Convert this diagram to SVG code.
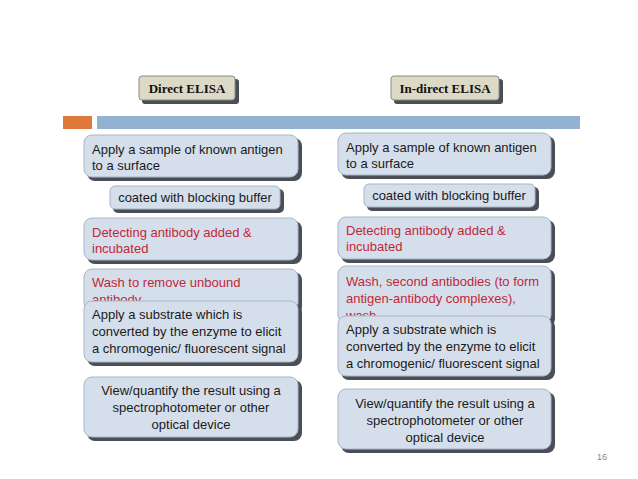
<svg xmlns="http://www.w3.org/2000/svg" width="638" height="479" viewBox="0 0 638 479">
<defs>
<style>
.b{fill:#d5dfeb;stroke:#a9b6c6;stroke-width:1}
.s{fill:#4a4f57}
.t{font-family:"Liberation Sans",Arial,sans-serif;font-size:13px;fill:#1a1a1a}
.r{fill:#c0283a}
.h{fill:#dcd9c6;stroke:#8f8c7c;stroke-width:1}
.ht{font-family:"Liberation Serif","Times New Roman",serif;font-size:13px;font-weight:bold;fill:#111}
</style>
</defs>
<rect width="638" height="479" fill="#fff"/>
<rect x="63" y="116" width="29" height="13" fill="#dd7a3c"/>
<rect x="97" y="116" width="483" height="13" fill="#93b2d1"/>
<g id="hdr-direct"><rect x="142" y="79" width="97" height="25" rx="3" class="s"/><rect x="139" y="76" width="96" height="24" rx="3" class="h"/><text x="187" y="93" text-anchor="middle" class="ht">Direct ELISA</text></g>
<g id="hdr-indirect"><rect x="394" y="79" width="109" height="25" rx="3" class="s"/><rect x="391" y="76" width="108" height="24" rx="3" class="h"/><text x="445" y="93" text-anchor="middle" class="ht">In-direct ELISA</text></g>
<g id="l1"><rect x="87" y="138" width="215" height="43" rx="8" class="s"/><rect x="84" y="135" width="214" height="42" rx="8" class="b"/><text class="t" x="92" y="154">Apply a sample of known antigen</text><text class="t" x="92" y="170">to a surface</text></g>
<g id="l2"><rect x="113" y="189" width="171" height="24" rx="5" class="s"/><rect x="110" y="186" width="170" height="23" rx="5" class="b"/><text class="t" x="195" y="202" text-anchor="middle">coated with blocking buffer</text></g>
<g id="l3"><rect x="87" y="221" width="215" height="43" rx="8" class="s"/><rect x="84" y="218" width="214" height="42" rx="8" class="b"/><text class="t r" x="92" y="237">Detecting antibody added &amp;</text><text class="t r" x="92" y="253">incubated</text></g>
<g id="l4"><rect x="87" y="272" width="215" height="43" rx="8" class="s"/><rect x="84" y="269" width="214" height="42" rx="8" class="b"/><text class="t r" x="92" y="287">Wash to remove unbound</text><text class="t r" x="92" y="304">antibody</text></g>
<g id="l5"><rect x="87" y="304" width="215" height="62" rx="8" class="s"/><rect x="84" y="301" width="214" height="61" rx="8" class="b"/><text class="t" x="92" y="319">Apply a substrate which is</text><text class="t" x="92" y="336">converted by the enzyme to elicit</text><text class="t" x="92" y="353">a chromogenic/ fluorescent signal</text></g>
<g id="l6"><rect x="87" y="380" width="215" height="61" rx="8" class="s"/><rect x="84" y="377" width="214" height="60" rx="8" class="b"/><text class="t" x="191" y="395" text-anchor="middle">View/quantify the result using a</text><text class="t" x="191" y="412" text-anchor="middle">spectrophotometer or other</text><text class="t" x="191" y="429" text-anchor="middle">optical device</text></g>
<g id="r1"><rect x="341" y="136" width="214" height="43" rx="8" class="s"/><rect x="338" y="133" width="213" height="42" rx="8" class="b"/><text class="t" x="346" y="152">Apply a sample of known antigen</text><text class="t" x="346" y="168">to a surface</text></g>
<g id="r2"><rect x="367" y="187" width="172" height="24" rx="5" class="s"/><rect x="364" y="184" width="171" height="23" rx="5" class="b"/><text class="t" x="449" y="200" text-anchor="middle">coated with blocking buffer</text></g>
<g id="r3"><rect x="341" y="220" width="214" height="43" rx="8" class="s"/><rect x="338" y="217" width="213" height="42" rx="8" class="b"/><text class="t r" x="346" y="235">Detecting antibody added &amp;</text><text class="t r" x="346" y="251">incubated</text></g>
<g id="r4"><rect x="341" y="269" width="214" height="58" rx="8" class="s"/><rect x="338" y="266" width="213" height="57" rx="8" class="b"/><text class="t r" x="346" y="286">Wash, second antibodies (to form</text><text class="t r" x="346" y="303">antigen-antibody complexes),</text><text class="t r" x="346" y="320">wash</text></g>
<g id="r5"><rect x="341" y="319" width="214" height="61" rx="8" class="s"/><rect x="338" y="316" width="213" height="60" rx="8" class="b"/><text class="t" x="346" y="334">Apply a substrate which is</text><text class="t" x="346" y="351">converted by the enzyme to elicit</text><text class="t" x="346" y="368">a chromogenic/ fluorescent signal</text></g>
<g id="r6"><rect x="341" y="392" width="214" height="61" rx="8" class="s"/><rect x="338" y="389" width="213" height="60" rx="8" class="b"/><text class="t" x="445" y="408" text-anchor="middle">View/quantify the result using a</text><text class="t" x="445" y="425" text-anchor="middle">spectrophotometer or other</text><text class="t" x="445" y="442" text-anchor="middle">optical device</text></g>
<g id="connectors"/>
<text x="597" y="460" font-family="Liberation Sans,Arial,sans-serif" font-size="9" fill="#888">16</text>
</svg>
